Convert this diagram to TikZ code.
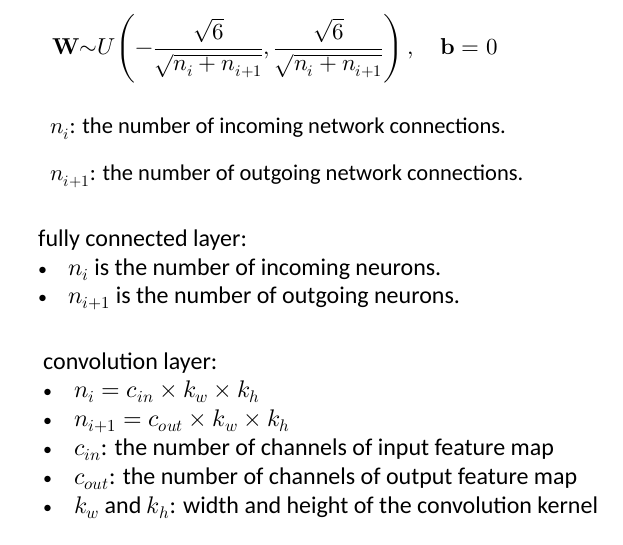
\documentclass[tikz,border=0pt]{standalone}
\usepackage{amsmath}
\usepackage{fontspec}
\usepackage{unicode-math}
\setmainfont{Carlito}
\setmathfont{Latin Modern Math}
\begin{document}
\begin{tikzpicture}[x=1pt,y=-1pt]
\tikzstyle{every node}=[font=\fontsize{24}{29}\selectfont, inner sep=0pt, anchor=base west]
\tikzstyle{small}=[font=\fontsize{22.5}{27}\selectfont]
\tikzstyle{bullet}=[font=\fontsize{18}{22}\selectfont]
\useasboundingbox (0,0) rectangle (623,545);
% initialisation formula
\node (init) [font=\fontsize{23}{28}\selectfont] at (52,55) {$\displaystyle \symbf{W}{\sim}U\!\left(-\frac{\sqrt{6}}{\sqrt{n_i+n_{i+1}}},\frac{\sqrt{6}}{\sqrt{n_i+n_{i+1}}}\right),\quad \symbf{b}=0$};
% fan-in / fan-out
\node (fanin) [small] at (50,134) {$n_i$: the number of incoming network connections.};
\node (fanout) [small] at (50,181) {$n_{i+1}$: the number of outgoing network connections.};
% fully connected layer
\node (fc) at (38,247) {fully connected layer:};
\node (fcb1) [bullet] at (38,275) {•};
\node (fc1) at (68,275) {$n_i$ is the number of incoming neurons.};
\node (fcb2) [bullet] at (38,303) {•};
\node (fc2) at (68,303) {$n_{i+1}$ is the number of outgoing neurons.};
% convolution layer
\node (conv) at (43,369) {convolution layer:};
\node (cvb1) [bullet] at (43,397) {•};
\node (cv1) at (74,397) {$n_i = c_{in}\times k_w\times k_h$};
\node (cvb2) [bullet] at (43,426) {•};
\node (cv2) at (74,426) {$n_{i+1} = c_{out}\times k_w\times k_h$};
\node (cvb3) [bullet] at (43,455) {•};
\node (cv3) at (74,455) {$c_{in}$: the number of channels of input feature map};
\node (cvb4) [bullet] at (43,484) {•};
\node (cv4) at (74,484) {$c_{out}$: the number of channels of output feature map};
\node (cvb5) [bullet] at (43,513) {•};
\node (cv5) at (74,513) {$k_w$ and $k_h$: width and height of the convolution kernel};
\end{tikzpicture}
\end{document}
